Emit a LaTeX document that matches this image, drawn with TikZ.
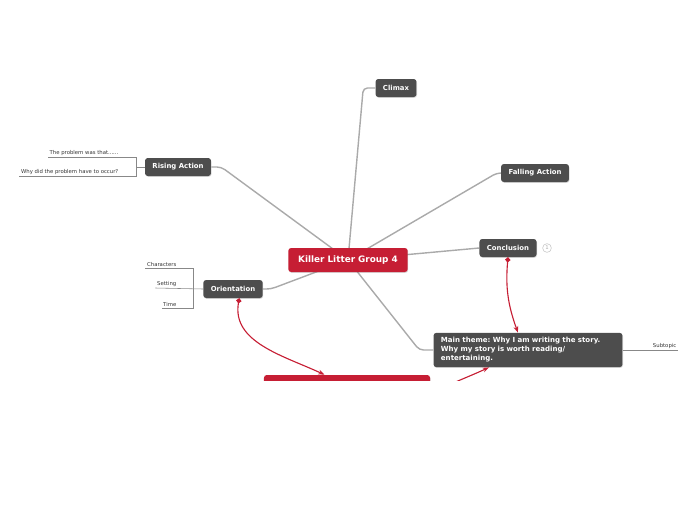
\documentclass[tikz,border=0pt]{standalone}
\usepackage{fontspec}
\setmainfont{DejaVu Sans}
\frenchspacing
\usetikzlibrary{positioning,arrows.meta,shadows,backgrounds}
\definecolor{mapred}{RGB}{198,30,52}
\definecolor{mapdark}{RGB}{77,77,77}
\definecolor{mapgray}{RGB}{170,170,170}
\tikzset{
  topic/.style={fill=mapdark,text=white,rounded corners=2pt,inner xsep=5.3pt,
               minimum height=0.45cm,font=\bfseries\fontsize{4.9}{6}\selectfont,
               drop shadow={shadow xshift=0.4pt,shadow yshift=-0.6pt,opacity=0.3}},
  central/.style={topic,fill=mapred,inner xsep=7pt,minimum height=0.6cm,
               font=\bfseries\fontsize{6.3}{7.5}\selectfont},
  leaf/.style={inner sep=1pt,text=black!80,font=\fontsize{3.8}{4.5}\selectfont},
  branch/.style={mapgray,line width=1pt,rounded corners=3pt},
  twig/.style={mapgray!80!black,line width=0.4pt},
  relation/.style={{Circle[length=3.6pt]}-{Stealth[length=4.5pt]},mapred,line width=0.8pt},
}

\begin{document}
\begin{tikzpicture}[x=0.025cm,y=-0.025cm]
  \useasboundingbox (0,0) rectangle (697,520);
  \begin{scope}
  \clip (0,0) rectangle (697,380);
  \node[central] (kl) at (348,260) {Killer Litter Group 4};
  \node[topic] (climax) at (396,88) {Climax};
  \node[topic] (fall) at (535,173) {Falling Action};
  \node[topic] (rise) at (178,167) {Rising Action};
  \node[topic] (concl) at (508,248) {Conclusion};
  \node[topic] (orient) at (233,289) {Orientation};
  \node[topic,align=left,text width=4.35cm,minimum height=0.85cm,
        font=\bfseries\fontsize{5}{6.4}\selectfont] (theme) at (528,350)
        {Main theme: Why I am writing the story.\\Why my story is worth reading/\\entertaining.};
  \node[central,minimum width=4.15cm,minimum height=1cm] (story) at (347,395) {};
  \node[draw=gray!45,circle,inner sep=0.9pt,text=gray!65,
        font=\fontsize{3.8}{4}\selectfont] (count) at (547,248) {1};

  \begin{scope}[on background layer]
    \draw[branch] (kl.center) -- ([xshift=-0.3cm]climax.west) -- (climax.west);
    \draw[branch] (kl.center) -- ([xshift=-0.1cm]fall.west) -- (fall.west);
    \draw[branch] (kl.center) -- ([xshift=0.25cm]rise.east) -- (rise.east);
    \draw[branch] (kl.center) -- (concl.west);
    \draw[branch] (kl.center) -- ([xshift=0.2cm]orient.east) -- (orient.east);
    \draw[branch] (kl.center) -- ([xshift=-0.35cm]theme.west) -- (theme.west);
  \end{scope}

  % subtopics
  \node[leaf,anchor=south east] (prob) at (120,157) {The problem was that......};
  \node[leaf,anchor=south east] (why) at (120,176) {Why did the problem have to occur?};
  \coordinate (rj) at (136,167);
  \draw[twig] (prob.south west) -- (prob.south west -| rj) -- (why.south west -| rj) -- (why.south west);
  \draw[twig] (rj) -- (rise.west);

  \node[leaf,anchor=south east] (chars) at (178,268) {Characters};
  \node[leaf,anchor=south east] (setting) at (178,288) {Setting};
  \node[leaf,anchor=south east] (time) at (178,308) {Time};
  \coordinate (oj) at (193,288);
  \draw[twig] (chars.south west) -- (chars.south west -| oj) -- (time.south west -| oj) -- (time.south west);
  \draw[twig] (setting.south west) -- (orient.west);

  \node[leaf,anchor=south east] (sub) at (678,350) {Subtopic};
  \draw[twig] (theme.east) -- (sub.south east);

  % relations
  \draw[relation] (concl.south) to[out=-95,in=110] (theme.120);
  \draw[relation] (orient.-56) to[out=-100,in=155] (story.138);
  \draw[relation] (story.east) to[out=30,in=-155] (theme.204);
  \end{scope}
\end{tikzpicture}
\end{document}
